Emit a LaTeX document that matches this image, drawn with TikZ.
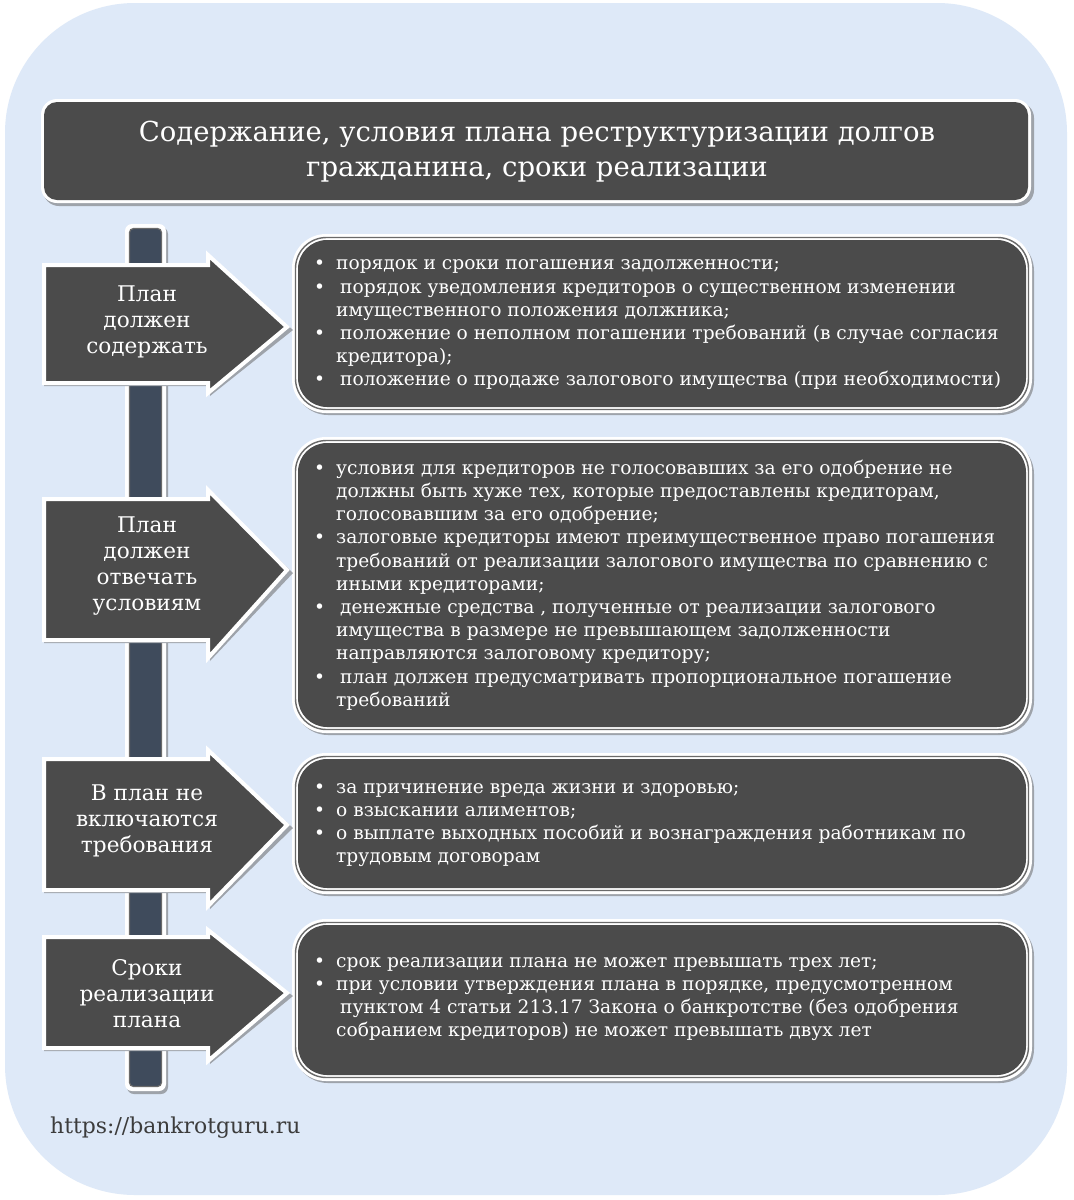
\documentclass[tikz,border=0pt]{standalone}
\usepackage{fontspec}
\setmainfont{DejaVu Serif}
\usetikzlibrary{calc}
\definecolor{bgblue}{HTML}{DEE9F8}
\definecolor{darkbox}{HTML}{4B4B4B}
\definecolor{barslate}{HTML}{3F4B5C}
\definecolor{shadowgray}{HTML}{9EA3AA}
\definecolor{rimgray}{HTML}{6A6A6A}
\definecolor{urlgray}{HTML}{3C3C3C}
\newcommand{\bu}{\makebox[23pt][l]{\hspace*{1pt}•}}
\newcommand{\ci}{\hspace*{23pt}}
\newcommand{\xs}{\hspace*{4pt}}
\tikzset{
  boxtext/.style={anchor=west, align=left, inner sep=0pt, text=white,
    font=\fontsize{18.6}{23.2}\selectfont},
  arrowtext/.style={align=center, inner sep=0pt, text=white,
    font=\fontsize{21.6}{26}\selectfont},
  titletext/.style={align=center, inner sep=0pt, text=white,
    font=\fontsize{27.5}{35}\selectfont},
}
% info box: x1, y1, x2, y2 (dark fill rectangle)
\newcommand{\infobox}[4]{%
  \fill[shadowgray, rounded corners=34] (#1-4,#2-3) rectangle (#3+8,#4+8);
  \fill[white, rounded corners=34] (#1-6,#2-6) rectangle (#3+6,#4+6);
  \draw[rimgray, line width=1.4, rounded corners=31] (#1-2.5,#2-2.5) rectangle (#3+2.5,#4+2.5);
  \fill[darkbox, rounded corners=29] (#1,#2) rectangle (#3,#4);
}
% arrow: body top, body bottom, head top, head bottom, tip y
\newcommand{\bigarrow}[5]{%
  \fill[shadowgray] (44,#1+3) -- (210,#1+3) -- (210,#3+3) -- (293,#5+3) -- (210,#4+3) -- (210,#2+3) -- (44,#2+3) -- cycle;
  \filldraw[fill=darkbox, draw=white, line width=4] (44,#1) -- (208,#1) -- (208,#3) -- (287,#5) -- (208,#4) -- (208,#2) -- (44,#2) -- cycle;
}
\begin{document}
\begin{tikzpicture}[x=1pt, y=-1pt]
\useasboundingbox (0,0) rectangle (1074,1200);
\fill[white] (0,0) rectangle (1074,1200);
% background
\fill[bgblue, rounded corners=130] (5,3) rectangle (1067,1195);
% title
\fill[shadowgray, rounded corners=16] (43,102) rectangle (1034,206);
\fill[white, rounded corners=16] (41,99) rectangle (1031,203);
\fill[darkbox, rounded corners=13] (44,102) rectangle (1028,200);
\node[titletext] (title) at (537,152) {Содержание, условия плана реструктуризации долгов\\гражданина, сроки реализации};
% vertical bar
\fill[shadowgray, rounded corners=7] (127,227) rectangle (168,1094);
\fill[white, rounded corners=7] (125,224) rectangle (166,1091);
\draw[rimgray, line width=1.2, fill=barslate, rounded corners=4] (129.5,228.5) rectangle (161.5,1086.5);
% info boxes
\infobox{298}{240}{1026}{407}
\infobox{298}{443}{1026}{727}
\infobox{298}{759}{1026}{888}
\infobox{298}{925}{1026}{1075}
% arrows
\bigarrow{265}{383}{255}{393}{327}
\bigarrow{499}{640}{490}{658}{570}
\bigarrow{759}{890}{750}{906}{825}
\bigarrow{937}{1048}{930}{1061}{993}
% arrow labels
\node[arrowtext] (a1) at (147,322) {План\\должен\\содержать};
\node[arrowtext] (a2) at (147,566) {План\\должен\\отвечать\\условиям};
\node[arrowtext] (a3) at (147,821) {В план не\\включаются\\требования};
\node[arrowtext] (a4) at (147,994) {Сроки\\реализации\\плана};
% box texts
\node[boxtext] (t1) at (313,325) {\bu порядок и сроки погашения задолженности;\\
\bu\xs порядок уведомления кредиторов о существенном изменении\\
\ci имущественного положения должника;\\
\bu\xs положение о неполном погашении требований (в случае согласия\\
\ci кредитора);\\
\bu\xs положение о продаже залогового имущества (при необходимости)};
\node[boxtext] (t2) at (313,585) {\bu условия для кредиторов не голосовавших за его одобрение не\\
\ci должны быть хуже тех, которые предоставлены кредиторам,\\
\ci голосовавшим за его одобрение;\\
\bu залоговые кредиторы имеют преимущественное право погашения\\
\ci требований от реализации залогового имущества по сравнению с\\
\ci иными кредиторами;\\
\bu\xs денежные средства , полученные от реализации залогового\\
\ci имущества в размере не превышающем задолженности\\
\ci направляются залоговому кредитору;\\
\bu\xs план должен предусматривать пропорциональное погашение\\
\ci требований};
\node[boxtext] (t3) at (313,825) {\bu за причинение вреда жизни и здоровью;\\
\bu о взыскании алиментов;\\
\bu о выплате выходных пособий и вознаграждения работникам по\\
\ci трудовым договорам};
\node[boxtext] (t4) at (313,999) {\bu срок реализации плана не может превышать трех лет;\\
\bu при условии утверждения плана в порядке, предусмотренном\\
\ci\xs пунктом 4 статьи 213.17 Закона о банкротстве (без одобрения\\
\ci собранием кредиторов) не может превышать двух лет};
% url
\node[anchor=west, inner sep=0pt, text=urlgray, font=\fontsize{21.9}{26}\selectfont] (url) at (50,1128) {https://bankrotguru.ru};
\end{tikzpicture}
\end{document}
